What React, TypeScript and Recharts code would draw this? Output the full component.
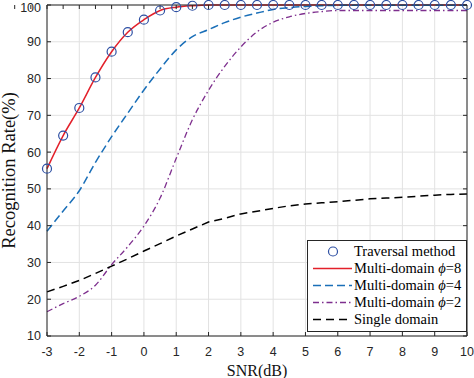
import React from 'react';
import { LineChart, Line, XAxis, YAxis, CartesianGrid, Legend } from 'recharts';

// SNR values (dB), one point every 0.5 dB
const snr = [-3, -2.5, -2, -1.5, -1, -0.5, 0, 0.5, 1, 1.5, 2, 2.5, 3, 3.5, 4, 4.5, 5, 5.5, 6, 6.5, 7, 7.5, 8, 8.5, 9, 9.5, 10];

const traversal = [55.5, 64.5, 72, 80.3, 87.3, 92.6, 96, 98.5, 99.4, 99.8, 100, 100, 100, 100, 100, 100, 100, 100, 100, 100, 100, 100, 100, 100, 100, 100, 100];
const multiPhi8 = [55.5, 64.5, 72, 80.3, 87.3, 92.6, 96, 98.5, 99.4, 99.8, 100, 100, 100, 100, 100, 100, 100, 100, 100, 100, 100, 100, 100, 100, 100, 100, 100];
const multiPhi4 = [38.5, 44, 49.5, 57.2, 64.2, 70.6, 76.9, 82.6, 87.8, 91.4, 93.3, 95.2, 96.7, 97.8, 98.8, 99.3, 99.6, 99.8, 99.9, 99.9, 99.9, 99.9, 99.9, 99.9, 99.9, 99.9, 99.9];
const multiPhi2 = [16.6, 18.8, 20.8, 23.8, 29.4, 34.3, 39.9, 47.5, 58.3, 68.8, 76.8, 83.3, 88.6, 92.7, 95.3, 96.8, 97.7, 98.2, 98.5, 98.5, 98.5, 98.5, 98.5, 98.5, 98.5, 98.5, 98.5];
const singleDomain = [22, 23.5, 25.1, 27, 29, 31, 33.1, 35.1, 37.2, 39.1, 41, 42, 43.2, 43.9, 44.7, 45.4, 45.9, 46.2, 46.5, 46.9, 47.3, 47.5, 47.7, 48, 48.3, 48.5, 48.6];

const xTicks = [-3, -2, -1, 0, 1, 2, 3, 4, 5, 6, 7, 8, 9, 10];
const yTicks = [10, 20, 30, 40, 50, 60, 70, 80, 90, 100];

const data = snr.map((x, i) => ({
  snr: x,
  traversal: traversal[i],
  phi8: multiPhi8[i],
  phi4: multiPhi4[i],
  phi2: multiPhi2[i],
  single: singleDomain[i],
}));

const AXIS = '#262626';
const RED = '#e3202a';
const BLUE = '#1a6fb8';
const PURPLE = '#7e2f8e';
const MARKER = '#2d4fa3';
const tickFont = { fontSize: 12.5, fill: AXIS, fontFamily: '"Liberation Sans", Arial, sans-serif' };
const serif = '"Liberation Serif", "Times New Roman", serif';

const legendRows = [
  { label: 'Traversal method', kind: 'marker' },
  { label: 'Multi-domain ', phi: '=8', stroke: RED, dash: undefined },
  { label: 'Multi-domain ', phi: '=4', stroke: BLUE, dash: '8 4' },
  { label: 'Multi-domain ', phi: '=2', stroke: PURPLE, dash: '6 3 1.5 3' },
  { label: 'Single domain', stroke: '#000', dash: '8 5' },
];

function ChartLegend() {
  return (
    <div
      style={{
        border: `1px solid ${AXIS}`,
        background: '#fff',
        width: 158,
        height: 88,
        boxSizing: 'content-box',
        fontFamily: serif,
        fontSize: 14.5,
        color: '#000',
        paddingTop: 2,
      }}
    >
      {legendRows.map((row, i) => (
        <div key={i} style={{ display: 'flex', alignItems: 'center', height: 17.1, lineHeight: '17px' }}>
          <svg width={46} height={17} style={{ flex: 'none' }}>
            {row.kind === 'marker' ? (
              <circle cx={25} cy={8.5} r={4.5} fill="none" stroke={MARKER} strokeWidth={1.2} />
            ) : (
              <line x1={5} x2={44} y1={8.5} y2={8.5} stroke={row.stroke} strokeWidth={1.5} strokeDasharray={row.dash} />
            )}
          </svg>
          <span style={{ whiteSpace: 'nowrap' }}>
            {row.label}
            {row.phi ? (
              <>
                <i>ϕ</i>
                {row.phi}
              </>
            ) : null}
          </span>
        </div>
      ))}
    </div>
  );
}

export default function App() {
  return (
    <div style={{ position: 'absolute', left: 0, top: 0, background: '#fff' }}>
      <LineChart width={474} height={378} data={data} margin={{ top: 0, right: 0, left: 0, bottom: 0 }}>
        <CartesianGrid stroke="#e2e2e2" strokeWidth={1} />
        <XAxis
          dataKey="snr"
          type="number"
          domain={[-3, 10]}
          ticks={xTicks}
          height={42}
          stroke={AXIS}
          tickSize={-4}
          tickMargin={15}
          tick={tickFont}
          label={{ value: 'SNR(dB)', position: 'insideBottom', offset: 2.5, style: { fontFamily: serif, fontSize: 16, fill: '#111' } }}
        />
        <XAxis
          xAxisId="top"
          orientation="top"
          type="number"
          domain={[-3, 10]}
          ticks={xTicks}
          allowDataOverflow
          height={5}
          stroke={AXIS}
          tickSize={-4}
          tickFormatter={() => ''}
        />
        <YAxis
          type="number"
          domain={[10, 100]}
          ticks={yTicks}
          width={47}
          stroke={AXIS}
          tickSize={-4}
          tickMargin={10}
          tick={tickFont}
          label={{
            value: 'Recognition Rate(%)',
            angle: -90,
            position: 'insideLeft',
            offset: 11,
            dx: -3,
            style: { fontFamily: serif, fontSize: 18.5, fill: '#111', textAnchor: 'middle' },
          }}
        />
        <YAxis
          yAxisId="right"
          orientation="right"
          type="number"
          domain={[10, 100]}
          ticks={yTicks}
          allowDataOverflow
          width={7}
          stroke={AXIS}
          tickSize={-4}
          tickFormatter={() => ''}
        />
        <Line
          dataKey="traversal"
          stroke="none"
          dot={{ r: 4.5, stroke: MARKER, fill: 'none', strokeWidth: 1.2 }}
          isAnimationActive={false}
        />
        <Line dataKey="phi8" type="monotone" stroke={RED} strokeWidth={1.5} dot={false} isAnimationActive={false} />
        <Line dataKey="phi4" type="monotone" stroke={BLUE} strokeWidth={1.5} strokeDasharray="8 4" dot={false} isAnimationActive={false} />
        <Line dataKey="phi2" type="monotone" stroke={PURPLE} strokeWidth={1.3} strokeDasharray="6 3 1.5 3" dot={false} isAnimationActive={false} />
        <Line dataKey="single" type="linear" stroke="#000" strokeWidth={1.5} strokeDasharray="8 5" dot={false} isAnimationActive={false} />
        <Legend
          layout="vertical"
          align="center"
          verticalAlign="middle"
          content={() => <ChartLegend />}
          wrapperStyle={{ left: 307, top: 240, width: 160, height: 90 }}
        />
      </LineChart>
    </div>
  );
}
